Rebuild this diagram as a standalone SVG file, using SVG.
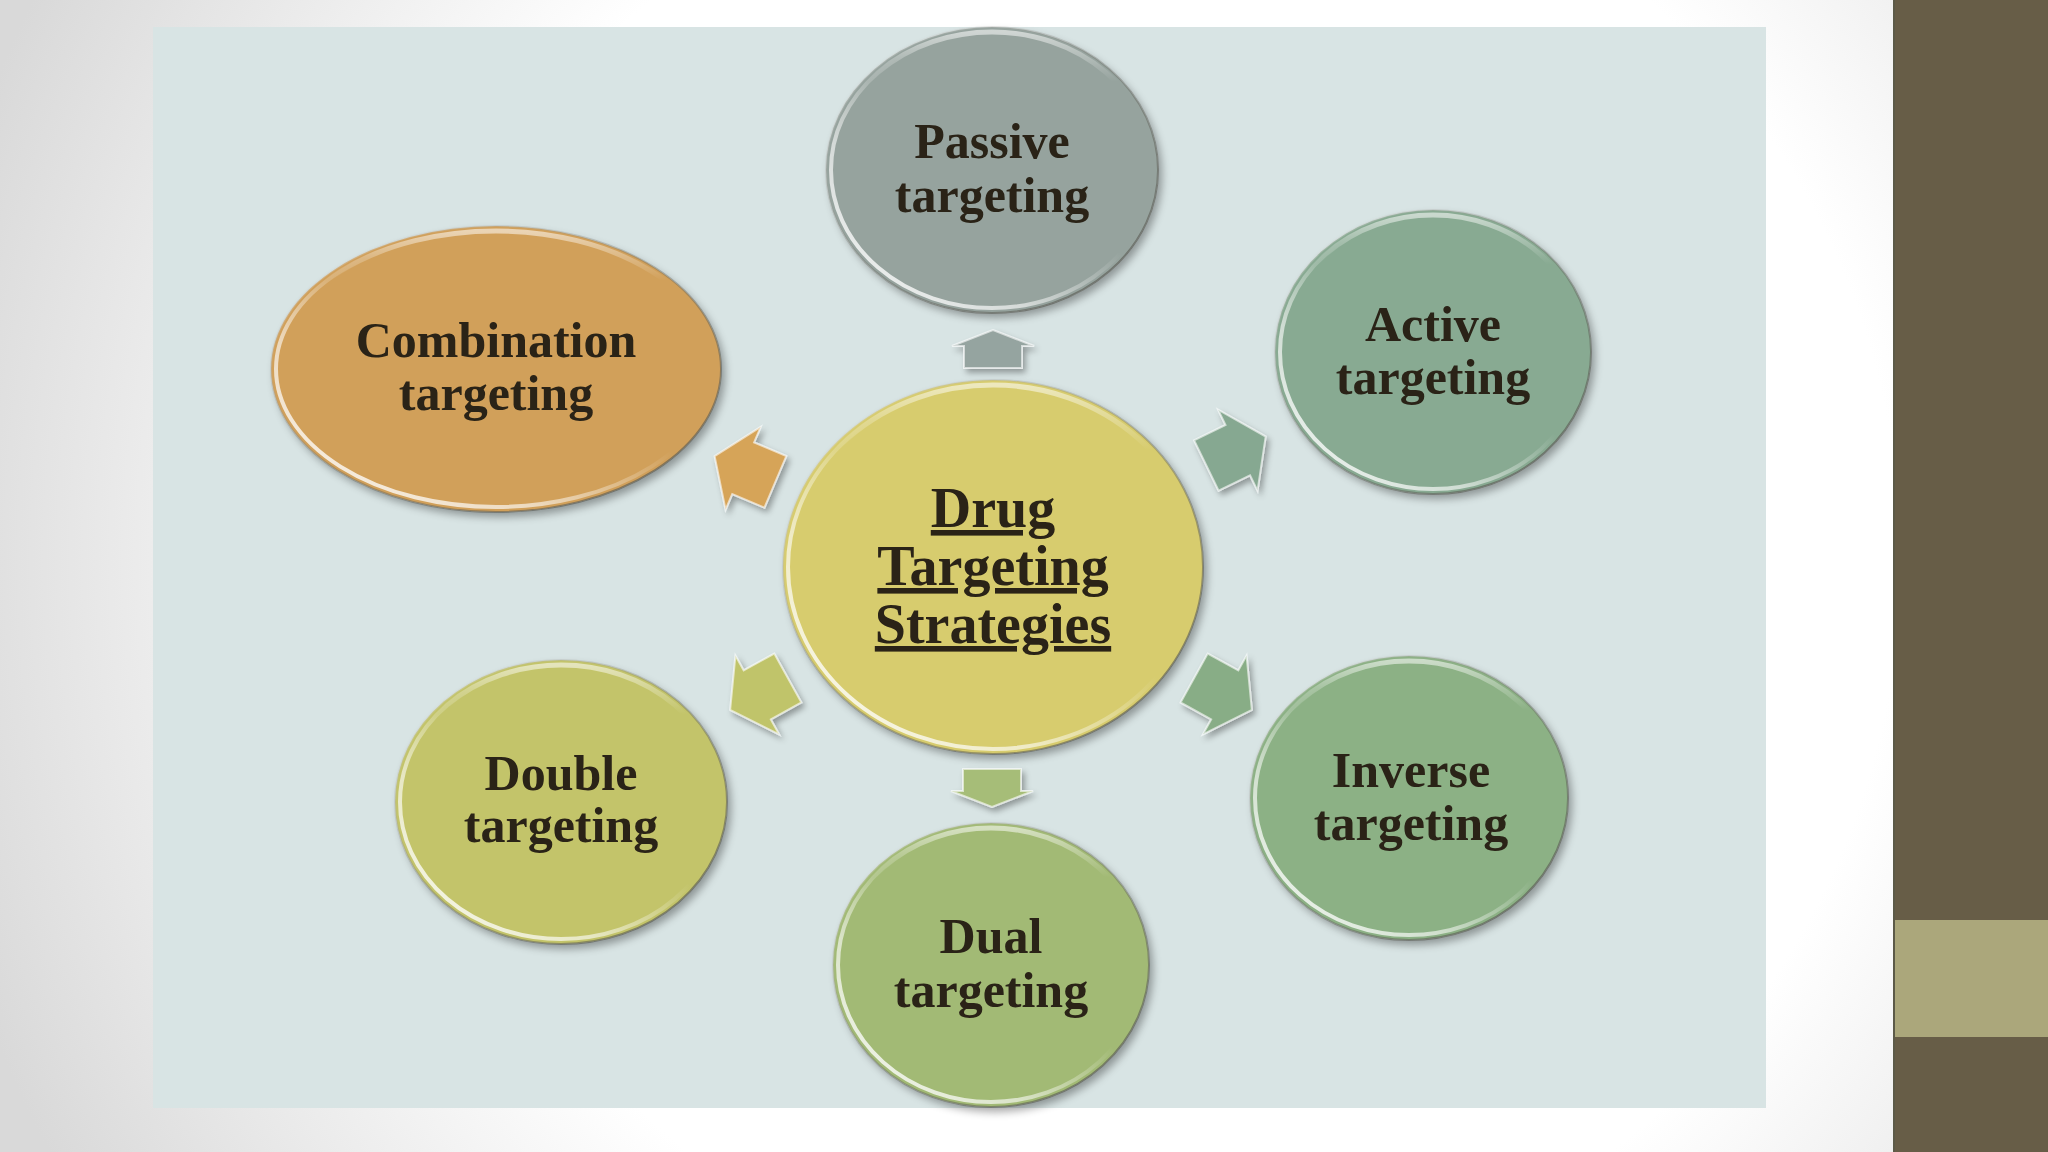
<svg xmlns="http://www.w3.org/2000/svg" width="2048" height="1152" viewBox="0 0 2048 1152">
<defs>
<radialGradient id="bg" gradientUnits="userSpaceOnUse" cx="1150" cy="560" r="1250">
<stop offset="0.6" stop-color="#ffffff"/>
<stop offset="1" stop-color="#d9d9d9"/>
</radialGradient>
<linearGradient id="rim" x1="0" y1="1" x2="1" y2="0">
<stop offset="0" stop-color="#ffffff" stop-opacity="0.95"/>
<stop offset="0.3" stop-color="#ffffff" stop-opacity="0.6"/>
<stop offset="0.55" stop-color="#ffffff" stop-opacity="0"/>
<stop offset="1" stop-color="#ffffff" stop-opacity="0"/>
</linearGradient>
<linearGradient id="rimTop" x1="0" y1="0" x2="0" y2="1">
<stop offset="0" stop-color="#ffffff" stop-opacity="0.55"/>
<stop offset="0.18" stop-color="#ffffff" stop-opacity="0"/>
</linearGradient>
<linearGradient id="edge" x1="0" y1="0" x2="1" y2="1">
<stop offset="0" stop-color="#ffffff" stop-opacity="0.3"/>
<stop offset="0.5" stop-color="#606058" stop-opacity="0.35"/>
<stop offset="1" stop-color="#505048" stop-opacity="0.7"/>
</linearGradient>
<filter id="sh" x="-20%" y="-20%" width="140%" height="140%">
<feGaussianBlur in="SourceAlpha" stdDeviation="4"/>
<feOffset dx="4" dy="5" result="b"/>
<feComponentTransfer><feFuncA type="linear" slope="0.35"/></feComponentTransfer>
<feMerge><feMergeNode/><feMergeNode in="SourceGraphic"/></feMerge>
</filter>
<filter id="ash" x="-50%" y="-50%" width="200%" height="200%">
<feGaussianBlur in="SourceAlpha" stdDeviation="3"/>
<feOffset dx="3" dy="4" result="b"/>
<feComponentTransfer><feFuncA type="linear" slope="0.35"/></feComponentTransfer>
<feMerge><feMergeNode/><feMergeNode in="SourceGraphic"/></feMerge>
</filter>
<path id="arrV" d="M-19,-29 H3 V-41 L19,0 L3,41 V29 H-19 Z"/>
<path id="arrD" d="M-33,-28 H2 V-45 L33,0 L2,45 V28 H-33 Z"/>
</defs>
<style>
.rim{fill:none;stroke:url(#rim);stroke-width:4}
.rimt{fill:none;stroke:url(#rimTop);stroke-width:5}
.edge{fill:none;stroke:url(#edge);stroke-width:2}
.t{font-family:"Liberation Serif","Times New Roman",serif;font-weight:bold;font-size:50px;fill:#2a2317;text-anchor:middle}
.c{font-family:"Liberation Serif","Times New Roman",serif;font-weight:bold;font-size:56px;fill:#2a2317;text-anchor:middle;text-decoration:underline;text-decoration-thickness:4px}
.ah{fill:none;stroke:#ffffff;stroke-opacity:0.6;stroke-width:2}
</style>

<rect width="2048" height="1152" fill="url(#bg)"/>
<rect x="153" y="27" width="1613" height="1081" fill="#d8e4e4"/>
<rect x="1894" y="0" width="154" height="1152" fill="#675d47"/>
<rect x="1894" y="920" width="154" height="117" fill="#aba77b"/>
<rect x="1893" y="0" width="2" height="1152" fill="#5c5a48"/>

<g id="connectors">
<g filter="url(#ash)"><g transform="translate(993,349) rotate(-90)"><use href="#arrV" fill="#95a4a0"/><use href="#arrV" class="ah"/></g></g>
<g filter="url(#ash)"><g transform="translate(1236,451) rotate(-26)"><use href="#arrD" fill="#86a891"/><use href="#arrD" class="ah"/></g></g>
<g filter="url(#ash)"><g transform="translate(1223,694) rotate(29)"><use href="#arrD" fill="#88ad86"/><use href="#arrD" class="ah"/></g></g>
<g filter="url(#ash)"><g transform="translate(992,788) rotate(90)"><use href="#arrV" fill="#a6bd78"/><use href="#arrV" class="ah"/></g></g>
<g filter="url(#ash)"><g transform="translate(759,694) rotate(151)"><use href="#arrD" fill="#c0c46a"/><use href="#arrD" class="ah"/></g></g>
<g filter="url(#ash)"><g transform="translate(745,469) rotate(-157)"><use href="#arrD" fill="#d6a458"/><use href="#arrD" class="ah"/></g></g>
</g>

<g id="center">
<ellipse cx="993" cy="567" rx="210" ry="187" fill="#d7cc6e" filter="url(#sh)"/>
<ellipse cx="993" cy="567" rx="205" ry="182" class="rim"/>
<ellipse cx="993" cy="567" rx="205" ry="182" class="rimt"/>
<ellipse cx="993" cy="567" rx="210" ry="187" class="edge"/>
<text class="c" x="993" y="527">Drug</text>
<text class="c" x="993" y="585">Targeting</text>
<text class="c" x="993" y="643">Strategies</text>
</g>

<g id="passive">
<ellipse cx="992" cy="170" rx="166" ry="143" fill="#96a39e" filter="url(#sh)"/>
<ellipse cx="992" cy="170" rx="161" ry="138" class="rim"/>
<ellipse cx="992" cy="170" rx="161" ry="138" class="rimt"/>
<ellipse cx="992" cy="170" rx="166" ry="143" class="edge"/>
<text class="t" x="992" y="158">Passive</text>
<text class="t" x="992" y="212">targeting</text>
</g>

<g id="active">
<ellipse cx="1433" cy="352" rx="158" ry="142" fill="#88aa92" filter="url(#sh)"/>
<ellipse cx="1433" cy="352" rx="153" ry="137" class="rim"/>
<ellipse cx="1433" cy="352" rx="153" ry="137" class="rimt"/>
<ellipse cx="1433" cy="352" rx="158" ry="142" class="edge"/>
<text class="t" x="1433" y="341">Active</text>
<text class="t" x="1433" y="394">targeting</text>
</g>

<g id="inverse">
<ellipse cx="1409" cy="798" rx="159" ry="142" fill="#8cb185" filter="url(#sh)"/>
<ellipse cx="1409" cy="798" rx="154" ry="137" class="rim"/>
<ellipse cx="1409" cy="798" rx="154" ry="137" class="rimt"/>
<ellipse cx="1409" cy="798" rx="159" ry="142" class="edge"/>
<text class="t" x="1411" y="787">Inverse</text>
<text class="t" x="1411" y="840">targeting</text>
</g>

<g id="dual">
<ellipse cx="991" cy="965" rx="158" ry="142" fill="#a2ba74" filter="url(#sh)"/>
<ellipse cx="991" cy="965" rx="153" ry="137" class="rim"/>
<ellipse cx="991" cy="965" rx="153" ry="137" class="rimt"/>
<ellipse cx="991" cy="965" rx="158" ry="142" class="edge"/>
<text class="t" x="991" y="953">Dual</text>
<text class="t" x="991" y="1007">targeting</text>
</g>

<g id="double">
<ellipse cx="561" cy="802" rx="166" ry="142" fill="#c3c46a" filter="url(#sh)"/>
<ellipse cx="561" cy="802" rx="161" ry="137" class="rim"/>
<ellipse cx="561" cy="802" rx="161" ry="137" class="rimt"/>
<ellipse cx="561" cy="802" rx="166" ry="142" class="edge"/>
<text class="t" x="561" y="790">Double</text>
<text class="t" x="561" y="842">targeting</text>
</g>

<g id="combination">
<ellipse cx="496" cy="369" rx="225" ry="143" fill="#d1a05a" filter="url(#sh)"/>
<ellipse cx="496" cy="369" rx="220" ry="138" class="rim"/>
<ellipse cx="496" cy="369" rx="220" ry="138" class="rimt"/>
<ellipse cx="496" cy="369" rx="225" ry="143" class="edge"/>
<text class="t" x="496" y="357">Combination</text>
<text class="t" x="496" y="410">targeting</text>
</g>
</svg>
